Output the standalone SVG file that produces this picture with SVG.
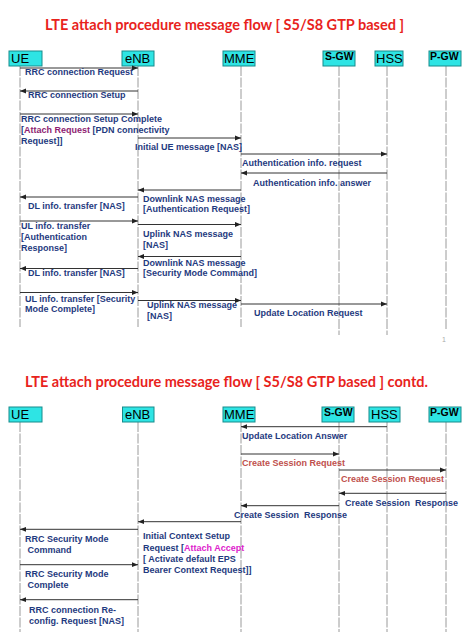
<svg xmlns="http://www.w3.org/2000/svg" width="474" height="632" viewBox="0 0 474 632">
<defs>
<marker id="ah" viewBox="0 0 6 6" refX="6" refY="3" markerWidth="6" markerHeight="6" markerUnits="userSpaceOnUse" orient="auto">
<path d="M0,0.6 L6,3 L0,5.4 z" fill="#222"/>
</marker>
<style>
.title{font-family:Lato,"Open Sans","Liberation Sans",sans-serif;font-weight:bold;font-size:15.5px;fill:#e8231c}
.box{fill:#2ee4e4;stroke:#178c8c;stroke-width:1}
.bl{font-family:"Liberation Sans",Arial,sans-serif;font-size:13px;fill:#000}
.bs{font-family:"Liberation Sans",Arial,sans-serif;font-size:10.5px;font-weight:bold;fill:#000}
.life{stroke:#9a9a9a;stroke-width:1;stroke-dasharray:10,1.5;fill:none}
.msg{stroke:#333;stroke-width:1;fill:none;marker-end:url(#ah)}
.t{font-family:"Liberation Sans",Arial,sans-serif;font-size:9px;font-weight:bold;fill:#1f3a80;white-space:pre}
.red{fill:#c0504d}
.pur{fill:#8e1d72}
.mag{fill:#dd22cc}
.pg{font-family:"Liberation Sans",Arial,sans-serif;font-size:7px;fill:#aaa}
</style>
</defs>
<rect width="474" height="632" fill="#fff"/>

<!-- Slide 1 -->
<text class="title" x="45" y="30" textLength="359" lengthAdjust="spacingAndGlyphs">LTE attach procedure message flow [ S5/S8 GTP based ]</text>

<g id="lifelines1">
<line class="life" x1="20" y1="66" x2="20" y2="327"/>
<line class="life" x1="138" y1="66" x2="138" y2="327"/>
<line class="life" x1="241" y1="66" x2="241" y2="327"/>
<line class="life" x1="339" y1="66" x2="339" y2="335"/>
<line class="life" x1="387" y1="66" x2="387" y2="335"/>
<line class="life" x1="446" y1="66" x2="446" y2="330"/>
</g>

<g id="ue1"><rect class="box" x="9" y="51" width="33" height="15"/><text class="bl" x="11" y="63">UE</text></g>
<g id="enb1"><rect class="box" x="122" y="51" width="32" height="15"/><text class="bl" x="125" y="63">eNB</text></g>
<g id="mme1"><rect class="box" x="223" y="51" width="32" height="15"/><text class="bl" x="224" y="63">MME</text></g>
<g id="sgw1"><rect class="box" x="323" y="51" width="32" height="15"/><text class="bs" x="325" y="60">S-GW</text></g>
<g id="hss1"><rect class="box" x="375" y="51" width="28" height="15"/><text class="bl" x="376" y="63">HSS</text></g>
<g id="pgw1"><rect class="box" x="429" y="51" width="32" height="15"/><text class="bs" x="430" y="60">P-GW</text></g>

<g id="connectors1">
<line class="msg" x1="20" y1="68" x2="138" y2="68"/>
<line class="msg" x1="138" y1="91" x2="20" y2="91"/>
<line class="msg" x1="20" y1="114" x2="138" y2="114"/>
<line class="msg" x1="138" y1="138" x2="241" y2="138"/>
<line class="msg" x1="241" y1="154" x2="387" y2="154"/>
<line class="msg" x1="387" y1="173" x2="241" y2="173"/>
<line class="msg" x1="241" y1="190" x2="138" y2="190"/>
<line class="msg" x1="138" y1="197" x2="20" y2="197"/>
<line class="msg" x1="20" y1="221" x2="138" y2="221"/>
<line class="msg" x1="138" y1="224.5" x2="241" y2="224.5"/>
<line class="msg" x1="241" y1="256.5" x2="138" y2="256.5"/>
<line class="msg" x1="138" y1="268.5" x2="20" y2="268.5"/>
<line class="msg" x1="20" y1="292.5" x2="138" y2="292.5"/>
<line class="msg" x1="138" y1="300.5" x2="241" y2="300.5"/>
<line class="msg" x1="241" y1="304" x2="387" y2="304" stroke-width="1.6"/>
</g>

<g id="labels1">
<text class="t" x="25" y="74.5">RRC connection Request</text>
<text class="t" x="28" y="98">RRC connection Setup</text>
<text class="t" x="21" y="122">RRC connection Setup Complete</text>
<text class="t" x="21" y="133">[<tspan class="pur">Attach Request</tspan> [PDN connectivity</text>
<text class="t" x="21" y="144">Request]]</text>
<text class="t" x="135" y="150">Initial UE message [NAS]</text>
<text class="t" x="242" y="165.5">Authentication info. request</text>
<text class="t" x="253" y="185.5">Authentication info. answer</text>
<text class="t" x="143" y="201.5">Downlink NAS message</text>
<text class="t" x="143" y="212">[Authentication Request]</text>
<text class="t" x="28" y="209">DL info. transfer [NAS]</text>
<text class="t" x="21" y="229">UL info. transfer</text>
<text class="t" x="21" y="240">[Authentication</text>
<text class="t" x="21" y="251">Response]</text>
<text class="t" x="143" y="237">Uplink NAS message</text>
<text class="t" x="143" y="247.5">[NAS]</text>
<text class="t" x="143" y="265.5">Downlink NAS message</text>
<text class="t" x="143" y="276">[Security Mode Command]</text>
<text class="t" x="28" y="275.5">DL info. transfer [NAS]</text>
<text class="t" x="25" y="301.5">UL info. transfer [Security</text>
<text class="t" x="25" y="311.5">Mode Complete]</text>
<text class="t" x="147" y="308">Uplink NAS message</text>
<text class="t" x="147" y="319">[NAS]</text>
<text class="t" x="254" y="316">Update Location Request</text>
</g>
<text class="pg" x="442" y="342">1</text>

<!-- Slide 2 -->
<text class="title" x="25" y="387" textLength="403" lengthAdjust="spacingAndGlyphs">LTE attach procedure message flow [ S5/S8 GTP based ] contd.</text>

<g id="lifelines2">
<line class="life" x1="20" y1="422" x2="20" y2="632"/>
<line class="life" x1="138" y1="422" x2="138" y2="632"/>
<line class="life" x1="241" y1="422" x2="241" y2="632"/>
<line class="life" x1="339" y1="422" x2="339" y2="632"/>
<line class="life" x1="387" y1="422" x2="387" y2="632"/>
<line class="life" x1="446" y1="422" x2="446" y2="632"/>
</g>

<g id="ue2"><rect class="box" x="9" y="407" width="33" height="15"/><text class="bl" x="11" y="419">UE</text></g>
<g id="enb2"><rect class="box" x="122.5" y="407" width="31.5" height="15"/><text class="bl" x="125" y="419">eNB</text></g>
<g id="mme2"><rect class="box" x="223" y="407" width="32" height="15"/><text class="bl" x="224" y="419">MME</text></g>
<g id="sgw2"><rect class="box" x="322" y="407" width="32" height="15"/><text class="bs" x="324" y="416">S-GW</text></g>
<g id="hss2"><rect class="box" x="369" y="407" width="31" height="15"/><text class="bl" x="371" y="419">HSS</text></g>
<g id="pgw2"><rect class="box" x="429" y="407" width="32" height="15"/><text class="bs" x="430" y="416">P-GW</text></g>

<g id="connectors2">
<line class="msg" x1="387" y1="426.7" x2="241" y2="426.7"/>
<line class="msg" x1="241" y1="454" x2="339" y2="454"/>
<line class="msg" x1="339" y1="470" x2="446" y2="470"/>
<line class="msg" x1="446" y1="493.3" x2="339" y2="493.3"/>
<line class="msg" x1="339" y1="505.7" x2="241" y2="505.7"/>
<line class="msg" x1="241" y1="521.7" x2="138" y2="521.7"/>
<line class="msg" x1="138" y1="529.3" x2="20" y2="529.3"/>
<line class="msg" x1="20" y1="564.7" x2="138" y2="564.7"/>
<line class="msg" x1="138" y1="599.7" x2="20" y2="599.7"/>
</g>

<g id="labels2">
<text class="t" x="242" y="438.5">Update Location Answer</text>
<text class="t red" x="242" y="465.5">Create Session Request</text>
<text class="t red" x="341" y="481.5">Create Session Request</text>
<text class="t" x="345" y="505.5">Create Session  Response</text>
<text class="t" x="234" y="517.5">Create Session  Response</text>
<text class="t" x="143" y="539">Initial Context Setup</text>
<text class="t" x="143" y="550.5">Request [<tspan class="mag">Attach Accept</tspan></text>
<text class="t" x="143" y="561.5">[ Activate default EPS</text>
<text class="t" x="143" y="572.5">Bearer Context Request]]</text>
<text class="t" x="25" y="541.5">RRC Security Mode</text>
<text class="t" x="25" y="552.5"> Command</text>
<text class="t" x="25" y="576.5">RRC Security Mode</text>
<text class="t" x="25" y="588"> Complete</text>
<text class="t" x="29" y="612.5">RRC connection Re-</text>
<text class="t" x="29" y="623.5">config. Request [NAS]</text>
</g>
</svg>
